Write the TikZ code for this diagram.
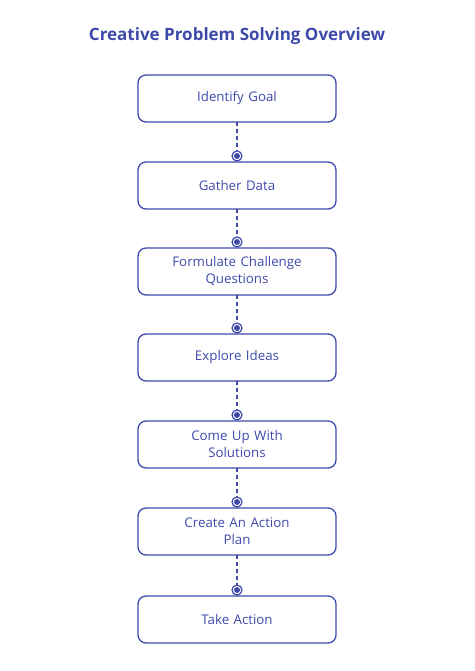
\documentclass[tikz,border=0pt]{standalone}
\usepackage{fontspec}
\setmainfont{Open Sans}
\usetikzlibrary{positioning}
\definecolor{flowblue}{RGB}{62,74,170}

\begin{document}
\begin{tikzpicture}[x=1pt, y=1pt,
    stepbox/.style={draw=flowblue, line width=1.3pt, rounded corners=8pt, outer sep=0pt,
      minimum width=198pt, minimum height=47pt, text width=180pt, align=center,
      text=flowblue, font=\fontsize{13.3}{17}\selectfont},
    link/.style={draw=flowblue, line width=1.3pt, dash pattern=on 4pt off 3pt},
    knob/.style={draw=flowblue, fill=white, line width=1.2pt}]
  \useasboundingbox (0,0) rectangle (474,671);
  \node [text=flowblue, font=\fontsize{17}{20}\selectfont\bfseries] (title) at (237,635)
    {Creative Problem Solving Overview};
  \node [stepbox] (goal) at (237,572.5) {Identify Goal};
  \node [stepbox, below=40pt of goal] (data) {Gather Data};
  \node [stepbox, below=39pt of data] (quest) {Formulate Challenge\\Questions};
  \node [stepbox, below=39pt of quest] (ideas) {Explore Ideas};
  \node [stepbox, below=40pt of ideas] (sol) {Come Up With\\Solutions};
  \node [stepbox, below=40pt of sol] (plan) {Create An Action\\Plan};
  \node [stepbox, below=41pt of plan] (act) {Take Action};
  \foreach \a/\b in {goal/data, data/quest, quest/ideas, ideas/sol, sol/plan, plan/act} {
    \coordinate (\b-knob) at ([yshift=6pt]\b.north);
    \path [link] (\a.south) -- (\b-knob);
    \path [knob] (\b-knob) circle (5pt);
    \path [fill=flowblue] (\b-knob) circle (3pt);
  }
\end{tikzpicture}
\end{document}
